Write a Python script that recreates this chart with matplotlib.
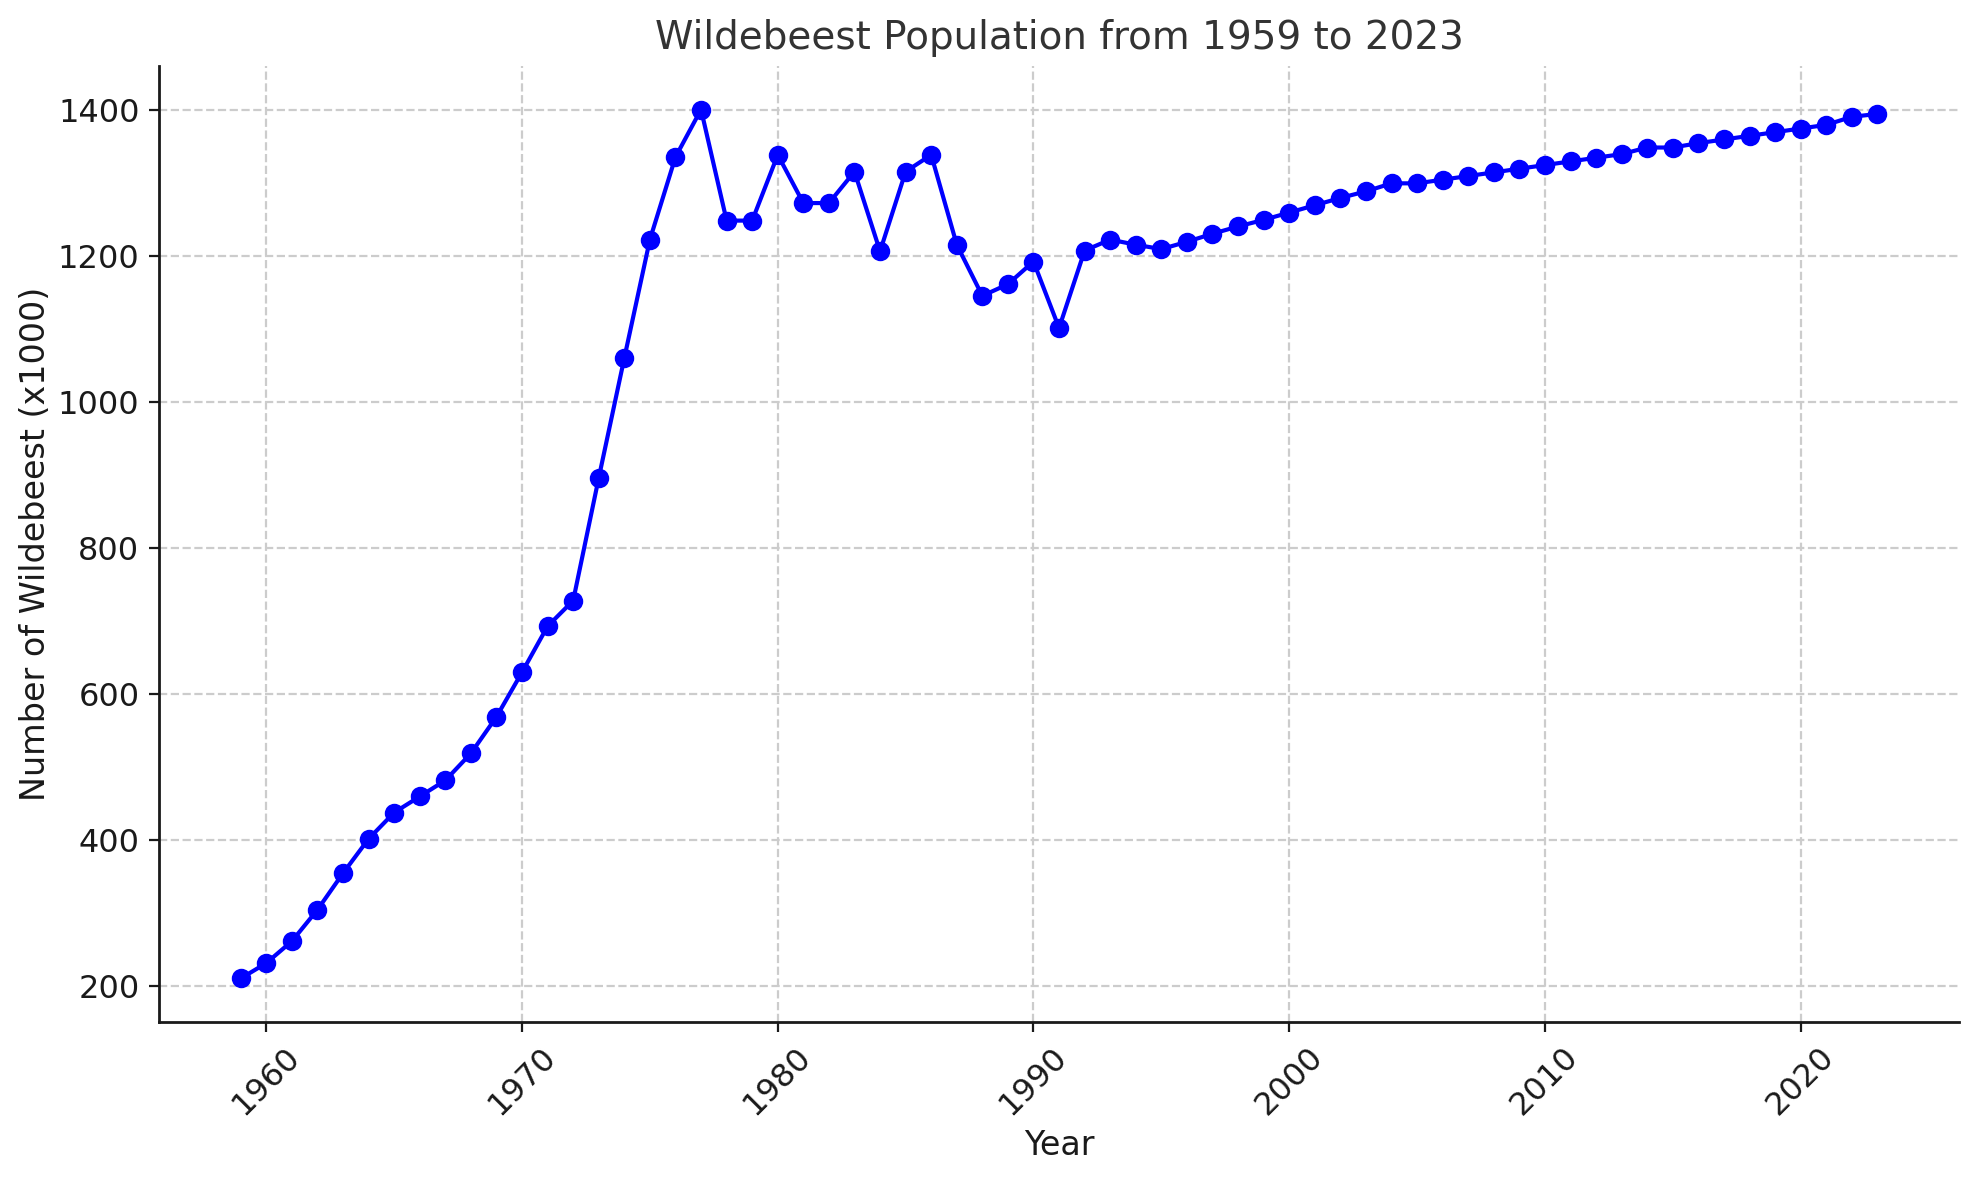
import matplotlib.pyplot as plt

# values (thousands of animals)
years = list(range(1959, 2024))
population = [
    211, 232, 262, 305, 355, 402, 438, 460, 482, 519,
    569, 630, 693, 728, 896, 1060, 1222, 1335, 1400, 1248,
    1248, 1338, 1272, 1272, 1315, 1206, 1315, 1338, 1215, 1145,
    1161, 1192, 1101, 1207, 1222, 1215, 1209, 1219, 1230, 1240,
    1249, 1259, 1269, 1279, 1288, 1299, 1299, 1304, 1309, 1314,
    1319, 1324, 1329, 1334, 1339, 1348, 1348, 1354, 1359, 1364,
    1369, 1374, 1379, 1390, 1394,
]

text_color = "#1a1a1a"
plt.rcParams["font.family"] = ["DejaVu Sans"]
plt.rcParams["text.color"] = text_color
plt.rcParams["axes.labelcolor"] = text_color
plt.rcParams["xtick.color"] = text_color
plt.rcParams["ytick.color"] = text_color

fig, ax = plt.subplots(figsize=(9.895, 5.9), dpi=200)
fig.subplots_adjust(left=0.0803, right=0.990, top=0.944, bottom=0.134)

ax.plot(years, population, color="blue", marker="o", linewidth=1.5, markersize=6)

ax.set_title("Wildebeest Population from 1959 to 2023", fontsize=14, color="#333333")
ax.set_xlabel("Year", fontsize=12, labelpad=3)
ax.set_ylabel("Number of Wildebeest (x1000)", fontsize=12, labelpad=2)
ax.tick_params(labelsize=11.5)
plt.xticks(rotation=45)

ax.grid(True, linestyle="--", color="#cccccc", linewidth=0.8)
ax.spines["top"].set_visible(False)
ax.spines["right"].set_visible(False)
for side in ["left", "bottom"]:
    ax.spines[side].set_color(text_color)
    ax.spines[side].set_linewidth(1.0)

fig.savefig("out.png", dpi=200)
